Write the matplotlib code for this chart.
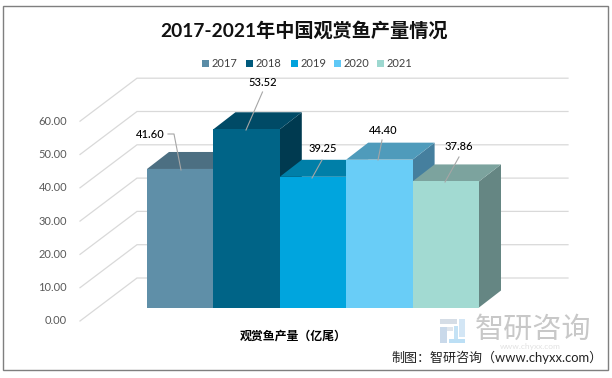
import matplotlib
matplotlib.use("Agg")
import matplotlib.pyplot as plt
from matplotlib.patches import Polygon, Rectangle
from matplotlib.transforms import Affine2D

plt.rcParams['font.family'] = ['Lato', 'Noto Sans CJK SC', 'DejaVu Sans']

years = ['2017', '2018', '2019', '2020', '2021']
values = [41.60, 53.52, 39.25, 44.40, 37.86]
value_labels = ['41.60', '53.52', '39.25', '44.40', '37.86']
ticks = [0, 10, 20, 30, 40, 50, 60]
tick_labels = ['0.00', '10.00', '20.00', '30.00', '40.00', '50.00', '60.00']
front_colors = ['#5f8fa8', '#006487', '#00a5de', '#69cdf7', '#a2dad2']
top_colors = ['#4c6f82', '#004a66', '#007fa8', '#4f9bbb', '#7ca39e']
side_colors = ['#47687a', '#003a50', '#00759b', '#457f9e', '#658683']
legend_colors = ['#5a8ca6', '#005a7c', '#00a2dc', '#5fc8f6', '#9dd8d0']
title = '2017-2021年中国观赏鱼产量情况'
xlabel = '观赏鱼产量（亿尾）'
source = '制图：智研咨询（www.chyxx.com）'

W, H = 612, 378
fig = plt.figure(figsize=(W / 100, H / 100), dpi=100, facecolor='white')
ax = fig.add_axes([0, 0, 1, 1])
ax.axis('off')

# scales: one category = 66.4 px, one value unit = 3.33 px
XU, YU = 66.4, 3.33
x0_px, y0_px = 147, 307.5
ax.set_xlim(-0.5 - x0_px / XU, -0.5 + (W - x0_px) / XU)
ax.set_ylim((y0_px - H) / YU, y0_px / YU)
dx, dy = 22 / XU, 17 / YU            # bar depth
# pixel-coordinate transform for page furniture
px = Affine2D().scale(1, -1).translate(0, H)

# chart frame
fig.add_artist(Rectangle((2.5, 6), 605.5, 363.5, transform=px, fill=False,
                         edgecolor='#7f7f7f', linewidth=1.0))

# walls / gridlines
gx_front = -0.5 - 67 / XU
gx_back = gx_front + 57 / XU
gx_end = -0.5 + (568 - 147) / XU
gy_front = -13.5 / YU
gy_back = 29.5 / YU
for t, lab in zip(ticks, tick_labels):
    ax.plot([gx_front, gx_back, gx_end], [gy_front + t, gy_back + t, gy_back + t],
            color='#d9d9d9', lw=0.9, zorder=1, solid_joinstyle='miter')
    ax.text(gx_front - 13 / XU, gy_front + t, lab, ha='right', va='center',
            fontsize=8, color='#595959')

# bars
for i, v in enumerate(values):
    z = 2 + i
    l, r = i - 0.5, i + 0.5
    ax.add_patch(Polygon([(r, 0), (r + dx, dy), (r + dx, v + dy), (r, v)],
                         facecolor=side_colors[i], edgecolor='none', zorder=z))
    ax.add_patch(Polygon([(l, v), (l + dx, v + dy), (r + dx, v + dy), (r, v)],
                         facecolor=top_colors[i], edgecolor='none', zorder=z))
    ax.bar(i, v, width=1.0, color=front_colors[i], edgecolor='none', zorder=z + 0.5)

# leader lines and data labels (page pixels)
label_pos = [(150, 135), (263, 83), (323, 148), (383, 131), (459, 147)]
leader_ends = [[(168, 134), (174, 134), (181, 170)],
               [(262.5, 92), (246, 130)],
               [(322, 160), (312, 178)],
               [(382, 140), (378, 160)],
               [(459, 157), (445, 182)]]
for lab, pos, pts in zip(value_labels, label_pos, leader_ends):
    xs, ys = zip(*pts)
    ax.plot(xs, ys, color='#a6a6a6', lw=0.8, zorder=20, transform=px)
    ax.text(pos[0], pos[1], lab, ha='center', va='center', fontsize=8,
            color='black', fontweight='medium', zorder=21, transform=px)

# title, legend, axis label
ax.text(304, 30, title, ha='center', va='center', fontsize=13.8, fontweight='bold',
        color='#111111', transform=px)
lx = [202, 246, 290.5, 334, 377]
for x, y, c in zip(lx, years, legend_colors):
    ax.add_patch(Rectangle((x, 60), 7, 7, facecolor=c, edgecolor='none', transform=px))
    ax.text(x + 10, 63.5, y, ha='left', va='center', fontsize=8, color='#404040', transform=px)
ax.text(293.5, 336, xlabel, ha='center', va='center', fontsize=8.6, fontweight='bold',
        color='black', transform=px)

# watermark
logo = [((440, 318.5, 17, 5), '#d5dde6'), ((459, 318.5, 6, 18), '#d3e6f5'),
        ((440, 327, 7, 16), '#c9d9ea'), ((447, 327, 6, 4), '#dfe5ec'),
        ((454, 326, 4, 13), '#c4e2f5'), ((449, 339, 16, 4), '#bcdff5')]
for r, c in logo:
    ax.add_patch(Rectangle(r[:2], r[2], r[3], facecolor=c, edgecolor='none', transform=px))
ax.text(533.5, 330, '智研咨询', ha='center', va='center', fontsize=21, color='#c8c8c8', transform=px)
ax.text(530, 347, 'www.chyxx.com', ha='center', va='center', fontsize=6, color='#e2e2e2', transform=px)
ax.text(497, 357, source, ha='center', va='center', fontsize=9.4, color='#222222', transform=px)

fig.savefig('out.png', dpi=100, facecolor='white')
